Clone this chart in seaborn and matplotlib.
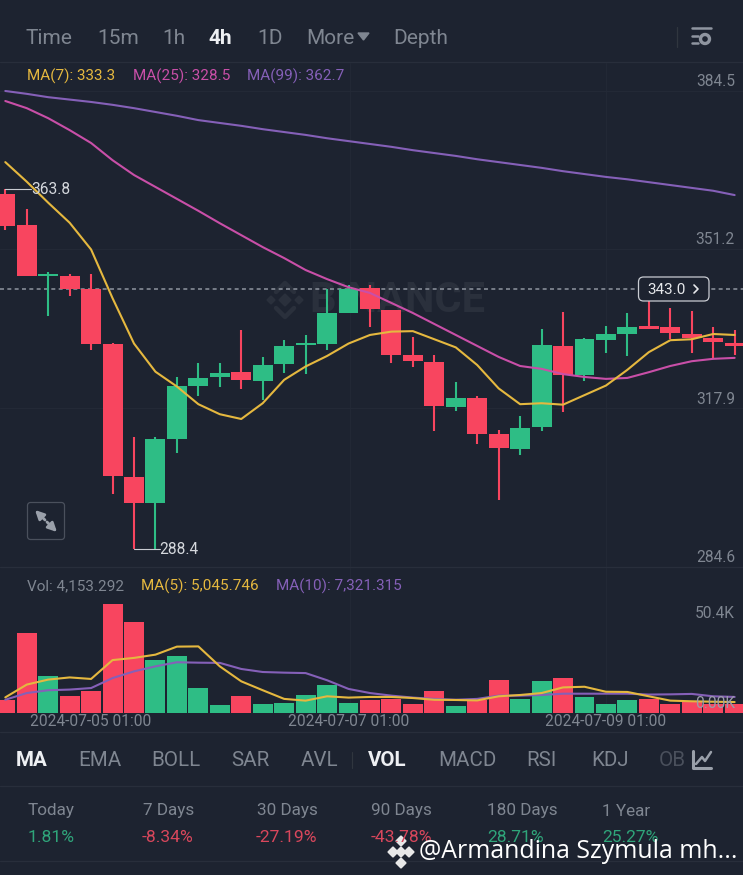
import numpy as np
import pandas as pd
import seaborn as sns
import matplotlib
matplotlib.use('Agg')
import matplotlib.pyplot as plt
from matplotlib.patches import FancyBboxPatch, Polygon, Circle

BG = '#1d2330'
GREEN = '#2ebd85'
RED = '#f8455f'
YELLOW = '#e5b83f'
PINK = '#c94fa8'
PURPLE = '#8560b8'
GRAY = '#7f8691'
LINE = '#232936'
MARK = '#2a303c'

# candles
opens = [362.8, 356.3, 345.6, 345.7, 342.85, 331.4, 303.5, 298.0, 311.6, 322.7, 324.4, 325.5,
         323.7, 327.2, 331.2, 331.4, 337.8, 343.1, 338.5, 329.1, 327.6, 318.3, 320.2, 312.6,
         309.4, 314.0, 331.0, 325.0, 332.2, 333.5, 335.0, 334.9, 333.6, 332.7, 331.6]
closes = [356.1, 345.6, 345.85, 342.9, 331.4, 303.7, 298.0, 311.6, 322.6, 324.3, 325.4, 323.9,
          327.1, 331.0, 331.5, 337.8, 342.85, 338.7, 329.0, 327.8, 318.4, 320.2, 312.6, 309.6,
          313.9, 331.1, 324.9, 332.45, 333.4, 334.9, 334.6, 333.7, 332.7, 331.9, 331.0]
highs = [363.8, 359.7, 346.4, 346.0, 346.0, 331.7, 312.0, 312.0, 324.4, 327.5, 327.5, 334.3,
         328.6, 332.2, 333.3, 342.85, 343.75, 343.7, 338.5, 332.8, 329.1, 323.5, 320.6, 313.4,
         316.3, 334.6, 338.1, 332.7, 335.2, 338.0, 342.5, 338.9, 338.4, 335.0, 334.3]
lows = [355.3, 345.6, 337.3, 341.5, 330.1, 299.9, 288.4, 288.4, 308.5, 320.6, 322.3, 322.0,
        319.7, 325.3, 325.1, 330.1, 337.8, 334.9, 327.4, 326.6, 313.2, 317.4, 310.4, 298.7,
        308.2, 313.2, 317.1, 323.7, 329.6, 328.9, 334.6, 332.4, 329.6, 328.3, 329.2]

ma7 = [369.5, 365.4, 361.0, 356.8, 351.2, 341.0, 331.5, 325.6, 322.5, 318.8, 316.7, 315.7,
       319.0, 323.9, 326.7, 328.9, 331.5, 333.3, 334.0, 334.1, 332.4, 330.7, 327.0, 322.1,
       318.8, 319.0, 318.7, 320.7, 322.7, 326.0, 329.7, 332.2, 332.4, 333.5, 333.3]
ma25 = [382.3, 380.8, 378.7, 376.2, 373.5, 369.9, 366.8, 364.3, 361.8, 359.3, 356.7, 354.2,
        351.7, 349.4, 346.9, 345.0, 343.3, 342.1, 340.0, 337.9, 335.6, 333.3, 331.0, 328.7,
        326.8, 326.2, 325.1, 324.5, 324.1, 324.3, 325.5, 326.8, 327.8, 328.3, 328.5]
ma99 = [384.4, 383.8, 383.1, 382.6, 382.1, 381.5, 380.8, 380.0, 379.2, 378.3, 377.7, 377.1,
        376.4, 375.8, 375.2, 374.5, 373.9, 373.3, 372.7, 372.0, 371.4, 370.8, 370.1, 369.5,
        368.9, 368.3, 367.6, 367.0, 366.4, 365.9, 365.3, 364.7, 364.1, 363.5, 362.6]

# volume, thousands
volume = [5.85, 36.9, 16.9, 8.0, 10.0, 50.4, 41.8, 24.3, 26.4, 11.5, 3.5, 8.0, 4.15, 4.5, 8.4,
          13.0, 4.5, 6.1, 6.6, 4.3, 10.3, 3.4, 5.9, 15.4, 6.5, 14.6, 16.3, 7.5, 4.15, 5.85, 6.45,
          4.3, 5.1, 4.3, 4.15]
vol_ma5 = [7.2, 13.1, 15.4, 16.4, 15.7, 24.4, 25.4, 26.9, 30.6, 30.7, 21.5, 14.6, 10.5, 6.5,
           5.7, 7.7, 7.1, 7.4, 7.4, 6.9, 6.1, 6.0, 5.8, 7.7, 8.3, 9.2, 11.8, 12.1, 9.8, 9.7,
           7.7, 5.7, 5.4, 5.2, 5.05]
vol_ma10 = [6.1, 9.2, 10.5, 10.8, 11.5, 16.1, 19.2, 21.5, 23.4, 23.2, 23.1, 20.3, 18.9, 18.6,
            18.4, 15.1, 11.1, 9.2, 8.0, 7.1, 6.5, 6.1, 6.5, 8.0, 8.0, 8.3, 8.9, 8.9, 8.9, 8.9,
            8.5, 8.6, 8.8, 7.7, 7.4]

price_ticks = [384.5, 351.2, 317.9, 284.6]
last_price = 343.0
tabs = ['Time', '15m', '1h', '4h', '1D', 'More', 'Depth']
indicators = ['MA', 'EMA', 'BOLL', 'SAR', 'AVL', 'VOL', 'MACD', 'RSI', 'KDJ', 'OB']
period_names = ['Today', '7 Days', '30 Days', '90 Days', '180 Days', '1 Year']
period_values = ['1.81%', '-8.34%', '-27.19%', '-43.78%', '28.71%', '25.27%']
date_labels = ['2024-07-05 01:00', '2024-07-07 01:00', '2024-07-09 01:00']

sns.set_style('dark')
plt.rcParams['font.family'] = ['Roboto', 'DejaVu Sans']

df = pd.DataFrame({'i': np.arange(len(opens)), 'open': opens, 'close': closes, 'high': highs,
                   'low': lows, 'ma7': ma7, 'ma25': ma25, 'ma99': ma99, 'vol': volume,
                   'vol5': vol_ma5, 'vol10': vol_ma10})
df['dir'] = np.where(df['close'] >= df['open'], 'up', 'down')
colors = {'up': GREEN, 'down': RED}

W, H = 743, 875
fig = plt.figure(figsize=(W / 100, H / 100), dpi=100, facecolor=BG)
# back layer for the grid and the faint exchange mark, pixel coords like the ui layer
back = fig.add_axes([0, 0, 1, 1], facecolor=BG)
ax = fig.add_axes([0, 1 - 567 / H, 1, (567 - 63) / H], facecolor='none')
ax_v = fig.add_axes([0, 1 - 713 / H, 1, (713 - 567) / H], facecolor='none')
ui = fig.add_axes([0, 0, 1, 1], facecolor='none')
for a in (back, ui):
    a.set_xlim(0, W)
    a.set_ylim(H, 0)
    a.axis('off')
xlim = (-0.247, 34.39)

for x in (350, 606):
    back.plot([x, x], [63, 713], color=LINE, lw=0.7)
for y in (62, 567, 732, 786, 861):
    back.plot([0, W], [y, y], color='#282e3b', lw=0.9)


def diamond(a, cx, cy, r, color):
    a.add_patch(Polygon([[cx, cy - r], [cx + r, cy], [cx, cy + r], [cx - r, cy]], color=color))


# faint exchange mark
diamond(back, 285, 300, 6, MARK)
for dx, dy in [(-14, 0), (14, 0)]:
    diamond(back, 285 + dx, 300 + dy, 4, MARK)
back.plot([276, 285, 294], [292, 283, 292], color=MARK, lw=3.2)
back.plot([276, 285, 294], [308, 317, 308], color=MARK, lw=3.2)
back.text(397, 301, 'BINANCE', color=MARK, fontsize=30, fontweight='bold', ha='center', va='center')

# price panel
for t in price_ticks:
    ax.axhline(t, color=LINE, lw=0.8, zorder=0)
ax.axhline(last_price, color='#8f95a0', lw=1.1, ls=(0, (2.6, 2.2)), zorder=2)
ax.vlines(df['i'], df['low'], df['high'], color=df['dir'].map(colors), lw=1.5, zorder=3)
ax.bar(df['i'], (df['close'] - df['open']).abs().clip(lower=0.5), bottom=df[['open', 'close']].min(axis=1),
       width=0.93, color=df['dir'].map(colors), linewidth=0, zorder=3)
for col, c in [('ma99', PURPLE), ('ma25', PINK), ('ma7', YELLOW)]:
    sns.lineplot(data=df, x='i', y=col, color=c, lw=1.5, ax=ax, zorder=4)
ax.set_xlim(xlim)
ax.set_ylim(284.7, 390.26)

# min / max markers
ax.plot([0, 1.2], [max(highs)] * 2, color='#c9ccd2', lw=0.8, zorder=5)
ax.plot([6, 7.2], [min(lows)] * 2, color='#c9ccd2', lw=0.8, zorder=5)
ax.text(1.2, max(highs), '363.8', color='#d5d8dd', fontsize=11.2, va='center', zorder=5)
ax.text(7.2, min(lows), '288.4', color='#d5d8dd', fontsize=11.2, va='center', zorder=5)

# volume panel
sns.barplot(data=df, x='i', y='vol', hue='dir', palette=colors, native_scale=True, dodge=False,
            width=0.93, saturation=1, legend=False, linewidth=0, ax=ax_v, zorder=2)
sns.lineplot(data=df, x='i', y='vol10', color=PURPLE, lw=1.5, ax=ax_v, zorder=3)
sns.lineplot(data=df, x='i', y='vol5', color=YELLOW, lw=1.5, ax=ax_v, zorder=4)
ax_v.set_xlim(xlim)
ax_v.set_ylim(0, 146 * 0.461)

for a in (ax, ax_v):
    a.set_xticks([])
    a.set_yticks([])
    a.set_xlabel('')
    a.set_ylabel('')
    a.grid(False)
    for s in a.spines.values():
        s.set_visible(False)


def label(x, y, s, color=GRAY, size=11, ha='left', weight='normal'):
    ui.text(x, y + 1, s, color=color, fontsize=size, ha=ha, va='center', fontweight=weight, zorder=8)


# header
for x, s in zip([26, 97, 162, 208, 257, 306, 393], tabs):
    if s == '4h':
        label(x, 37, s, '#eef0f3', 15, weight='bold')
    else:
        label(x, 37, s, GRAY, 15)
ui.add_patch(Polygon([[358, 33], [369, 33], [363.5, 40]], color=GRAY))
ui.plot([677, 677], [27, 47], color='#30363f', lw=0.9)
ui.plot([692, 711], [28, 28], color='#8f95a0', lw=1.8)
ui.plot([692, 698], [36, 36], color='#8f95a0', lw=1.8)
ui.plot([692, 698], [43, 43], color='#8f95a0', lw=1.8)
ui.add_patch(Circle((705, 39), 4.5, facecolor=BG, edgecolor='#8f95a0', lw=2.4))

label(27, 75, 'MA(7): 333.3', YELLOW, 11)
label(133, 75, 'MA(25): 328.5', PINK, 11)
label(247, 75, 'MA(99): 362.7', PURPLE, 11)

for y, t in zip([81, 239, 398, 557], price_ticks):
    label(735, y, f'{t:.1f}', GRAY, 11.2, ha='right')

# last price tag
ui.add_patch(FancyBboxPatch((638.5, 277), 70.5, 24, boxstyle='round,pad=0,rounding_size=5',
                            facecolor=BG, edgecolor='#c9ccd2', lw=0.9, zorder=7))
label(647, 289, f'{last_price:.1f}', '#e6e8eb', 11)
ui.plot([694, 698, 694], [285, 289, 293], color='#e6e8eb', lw=1.2, zorder=8)

# expand button
ui.add_patch(FancyBboxPatch((27.5, 502.5), 37, 37, boxstyle='round,pad=0,rounding_size=3',
                            facecolor=BG, edgecolor='#4a505c', lw=0.9, zorder=6))
ui.annotate('', xy=(35, 510), xytext=(45, 520), zorder=7,
            arrowprops=dict(arrowstyle='-|>', color='#9aa0aa', lw=2, mutation_scale=13, shrinkA=0, shrinkB=0))
ui.annotate('', xy=(57, 532), xytext=(47, 522), zorder=7,
            arrowprops=dict(arrowstyle='-|>', color='#9aa0aa', lw=2, mutation_scale=13, shrinkA=0, shrinkB=0))

# volume legend
label(27, 585, 'Vol: 4,153.292', GRAY, 11)
label(141, 585, 'MA(5): 5,045.746', YELLOW, 11)
label(276, 585, 'MA(10): 7,321.315', PURPLE, 11)
label(735, 612, '50.4K', GRAY, 11.2, ha='right')
label(735, 702, '0.00K', '#9a9ca8', 11.2, ha='right')
for x, s in zip([91, 349, 606], date_labels):
    label(x, 721, s, GRAY, 11.2, ha='center')

# indicator tabs
for x, s in zip([16, 78, 151, 231, 301, 368, 438, 526, 591, 659], indicators):
    if s in ('MA', 'VOL'):
        label(x, 760, s, '#eef0f3', 14.8, weight='bold')
    elif s == 'OB':
        label(x, 760, s, '#4a505c', 14.8)
    else:
        label(x, 760, s, GRAY, 14.8)
ui.plot([352, 352], [752, 768], color='#30363f', lw=0.8)
ui.plot([693, 693, 711], [751, 768, 768], color='#9aa0aa', lw=2.2)
ui.plot([696, 702, 705, 711], [764, 757, 761, 752], color='#9aa0aa', lw=1.8)

# period stats
for x, s in zip([28, 143, 257, 371, 487, 602], period_names):
    label(x, 810, s, GRAY, 12.3)
for x, s in zip([28, 142, 256, 371, 487, 602], period_values):
    label(x, 837, s, '#d9475c' if s.startswith('-') else '#2fa57a', 12.6)

# overlay credit
for cx, cy in [(401, 841), (393, 852), (409, 852), (401, 863), (401, 852)]:
    diamond(ui, cx, cy, 5, '#e8e8e8')
ui.text(419, 852, '@Armandina Szymula mh...', color='white', fontsize=17.9, va='center',
        family='Open Sans', zorder=9)

fig.savefig('out.png', dpi=100, facecolor=BG)
